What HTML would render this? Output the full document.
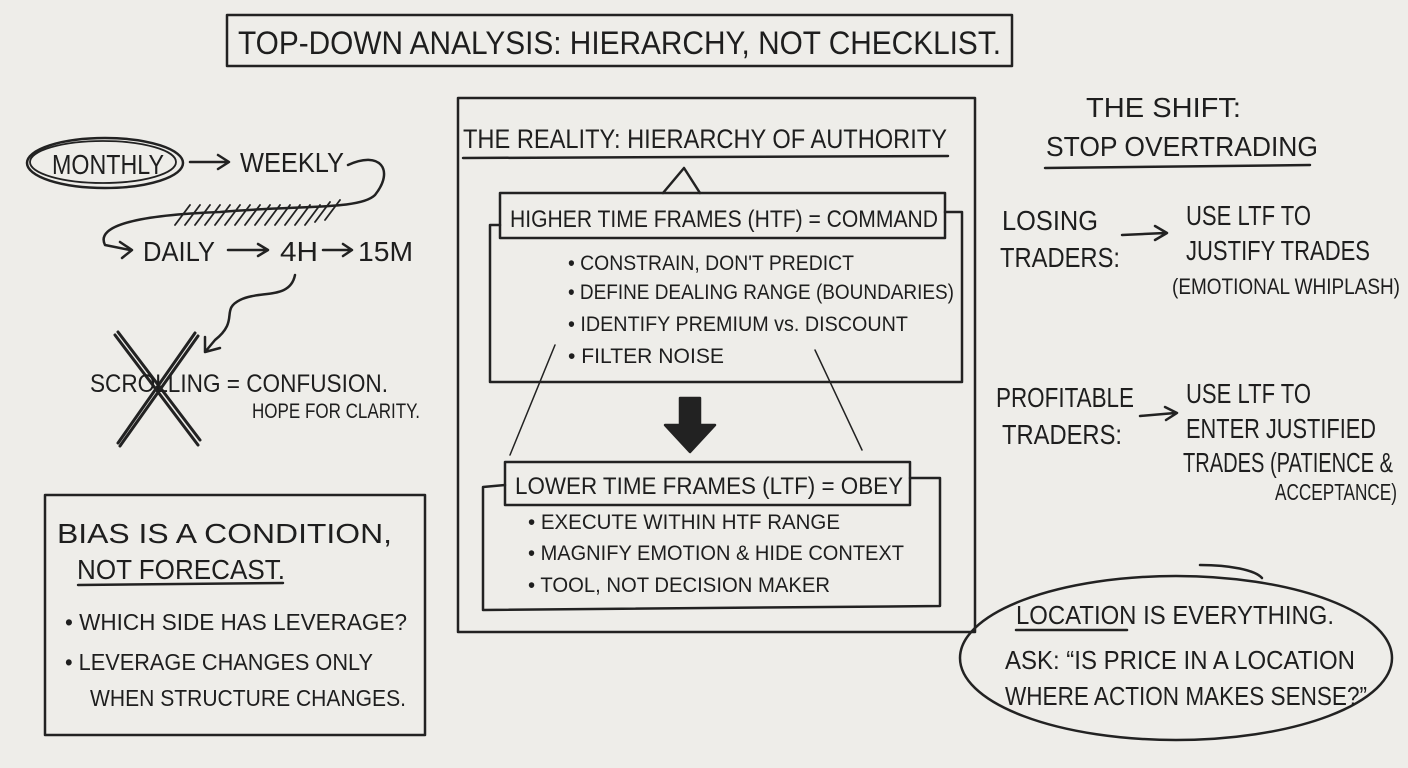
<!DOCTYPE html>
<html><head><meta charset="utf-8"><style>
html,body{margin:0;padding:0;background:#eeede9;}
svg{display:block}
text{font-family:"Liberation Sans",sans-serif;fill:#1e1e1e;}
</style></head><body>
<svg width="1408" height="768" viewBox="0 0 1408 768" xmlns="http://www.w3.org/2000/svg">
<rect width="1408" height="768" fill="#eeede9"/>
<g fill="none" stroke="#222" stroke-width="2.5" stroke-linecap="round" stroke-linejoin="round">
<rect x="227" y="15" width="785" height="51"/>
<ellipse cx="105" cy="163" rx="78" ry="25"/>
<ellipse cx="103" cy="162" rx="73" ry="21" stroke-width="1.8"/>
<path d="M190 162 L228 162 M218 155 L229 162 L218 169"/>
<path d="M348 165 C380 150 395 170 375 195 C360 210 300 205 220 212 C140 215 95 225 105 245 L130 250 M120 242 L132 250 L122 258"/>
<path d="M175 225 L190 205 M185 225 L200 205 M195 225 L210 205 M205 225 L220 205 M215 225 L230 205 M225 225 L240 205 M235 225 L250 205 M245 225 L260 205 M255 225 L270 205 M265 225 L280 205 M275 225 L290 205 M285 225 L300 205 M295 225 L310 205 M305 225 L320 205 M315 222 L330 202 M325 220 L340 200" stroke-width="1.8"/>
<path d="M228 250 L266 250 M258 244 L268 250 L258 256"/>
<path d="M323 250 L350 250 M343 244 L352 250 L343 256"/>
<path d="M295 275 C290 300 260 290 240 300 C220 310 240 320 215 340 L205 352 M205 337 L205 352 L220 348"/>
<path d="M115 335 L198 445 M118 332 L200 440 M195 333 L118 443 M198 336 L120 446" stroke-width="3"/>
<rect x="45" y="495" width="380" height="240"/>
<path d="M78 585 L283 583"/>
<rect x="458" y="98" width="517" height="534"/>
<path d="M463 158 L948 156"/>
<path d="M663 193 L684 168 L700 193"/>
<rect x="500" y="193" width="445" height="45"/>
<path d="M500 225 L490 225 L490 382 L962 382 L962 212 L945 212"/>
<path d="M555 345 L510 455 M815 350 L862 450" stroke-width="1.5"/>
<path d="M680 398 L700 398 L700 425 L715 425 L690 452 L665 425 L680 425 Z" fill="#222"/>
<rect x="505" y="462" width="405" height="43"/>
<path d="M505 485 L483 487 L483 610 L940 606 L940 478 L910 478"/>
<path d="M1045 168 L1310 165"/>
<path d="M1122 235 L1165 233 M1155 226 L1167 233 L1155 240"/>
<path d="M1140 416 L1175 413 M1165 407 L1177 413 L1166 420"/>
<ellipse cx="1176" cy="658" rx="216" ry="82"/>
<path d="M1016 630 L1127 630"/>
<path d="M1200 565 C1230 565 1255 570 1262 578"/>
</g>
<g font-size="28">
<text x="238" y="54" textLength="763" lengthAdjust="spacingAndGlyphs" font-size="32">TOP-DOWN ANALYSIS: HIERARCHY, NOT CHECKLIST.</text>
<text x="52" y="174" textLength="112" lengthAdjust="spacingAndGlyphs">MONTHLY</text>
<text x="240" y="172" textLength="104" lengthAdjust="spacingAndGlyphs">WEEKLY</text>
<text x="143" y="261" textLength="72" lengthAdjust="spacingAndGlyphs">DAILY</text>
<text x="280" y="261" textLength="38" lengthAdjust="spacingAndGlyphs">4H</text>
<text x="358" y="261" textLength="55" lengthAdjust="spacingAndGlyphs">15M</text>
<text x="90" y="392" font-size="25" textLength="298" lengthAdjust="spacingAndGlyphs">SCROLLING = CONFUSION.</text>
<text x="252" y="418" font-size="21" textLength="168" lengthAdjust="spacingAndGlyphs">HOPE FOR CLARITY.</text>
<text x="57" y="543" textLength="335" lengthAdjust="spacingAndGlyphs">BIAS IS A CONDITION,</text>
<text x="77" y="579" textLength="208" lengthAdjust="spacingAndGlyphs">NOT FORECAST.</text>
<text x="65" y="630" font-size="23" textLength="342" lengthAdjust="spacingAndGlyphs">• WHICH SIDE HAS LEVERAGE?</text>
<text x="65" y="670" font-size="23" textLength="308" lengthAdjust="spacingAndGlyphs">• LEVERAGE CHANGES ONLY</text>
<text x="90" y="706" font-size="23" textLength="316" lengthAdjust="spacingAndGlyphs">WHEN STRUCTURE CHANGES.</text>
<text x="463" y="148" font-size="27" textLength="484" lengthAdjust="spacingAndGlyphs">THE REALITY: HIERARCHY OF AUTHORITY</text>
<text x="510" y="227" font-size="24" textLength="428" lengthAdjust="spacingAndGlyphs">HIGHER TIME FRAMES (HTF) = COMMAND</text>
<text x="568" y="270" font-size="21" textLength="286" lengthAdjust="spacingAndGlyphs">• CONSTRAIN, DON'T PREDICT</text>
<text x="568" y="299" font-size="21" textLength="386" lengthAdjust="spacingAndGlyphs">• DEFINE DEALING RANGE (BOUNDARIES)</text>
<text x="568" y="331" font-size="21" textLength="340" lengthAdjust="spacingAndGlyphs">• IDENTIFY PREMIUM vs. DISCOUNT</text>
<text x="568" y="363" font-size="21" textLength="156" lengthAdjust="spacingAndGlyphs">• FILTER NOISE</text>
<text x="515" y="494" font-size="24" textLength="388" lengthAdjust="spacingAndGlyphs">LOWER TIME FRAMES (LTF) = OBEY</text>
<text x="528" y="529" font-size="21" textLength="312" lengthAdjust="spacingAndGlyphs">• EXECUTE WITHIN HTF RANGE</text>
<text x="528" y="560" font-size="21" textLength="376" lengthAdjust="spacingAndGlyphs">• MAGNIFY EMOTION &amp; HIDE CONTEXT</text>
<text x="528" y="592" font-size="21" textLength="302" lengthAdjust="spacingAndGlyphs">• TOOL, NOT DECISION MAKER</text>
<text x="1086" y="117" textLength="155" lengthAdjust="spacingAndGlyphs">THE SHIFT:</text>
<text x="1046" y="156" textLength="272" lengthAdjust="spacingAndGlyphs">STOP OVERTRADING</text>
<text x="1002" y="230" textLength="96" lengthAdjust="spacingAndGlyphs">LOSING</text>
<text x="1000" y="267" textLength="120" lengthAdjust="spacingAndGlyphs">TRADERS:</text>
<text x="1186" y="225" textLength="125" lengthAdjust="spacingAndGlyphs">USE LTF TO</text>
<text x="1186" y="260" textLength="184" lengthAdjust="spacingAndGlyphs">JUSTIFY TRADES</text>
<text x="1172" y="294" font-size="22" textLength="228" lengthAdjust="spacingAndGlyphs">(EMOTIONAL WHIPLASH)</text>
<text x="996" y="407" textLength="138" lengthAdjust="spacingAndGlyphs">PROFITABLE</text>
<text x="1002" y="444" textLength="120" lengthAdjust="spacingAndGlyphs">TRADERS:</text>
<text x="1186" y="403" textLength="125" lengthAdjust="spacingAndGlyphs">USE LTF TO</text>
<text x="1186" y="438" textLength="190" lengthAdjust="spacingAndGlyphs">ENTER JUSTIFIED</text>
<text x="1183" y="472" textLength="210" lengthAdjust="spacingAndGlyphs">TRADES (PATIENCE &amp;</text>
<text x="1275" y="500" font-size="23" textLength="122" lengthAdjust="spacingAndGlyphs">ACCEPTANCE)</text>
<text x="1016" y="624" font-size="26" textLength="318" lengthAdjust="spacingAndGlyphs">LOCATION IS EVERYTHING.</text>
<text x="1005" y="669" font-size="26" textLength="350" lengthAdjust="spacingAndGlyphs">ASK: “IS PRICE IN A LOCATION</text>
<text x="1005" y="705" font-size="26" textLength="362" lengthAdjust="spacingAndGlyphs">WHERE ACTION MAKES SENSE?”</text>
</g>
</svg>
</body></html>
